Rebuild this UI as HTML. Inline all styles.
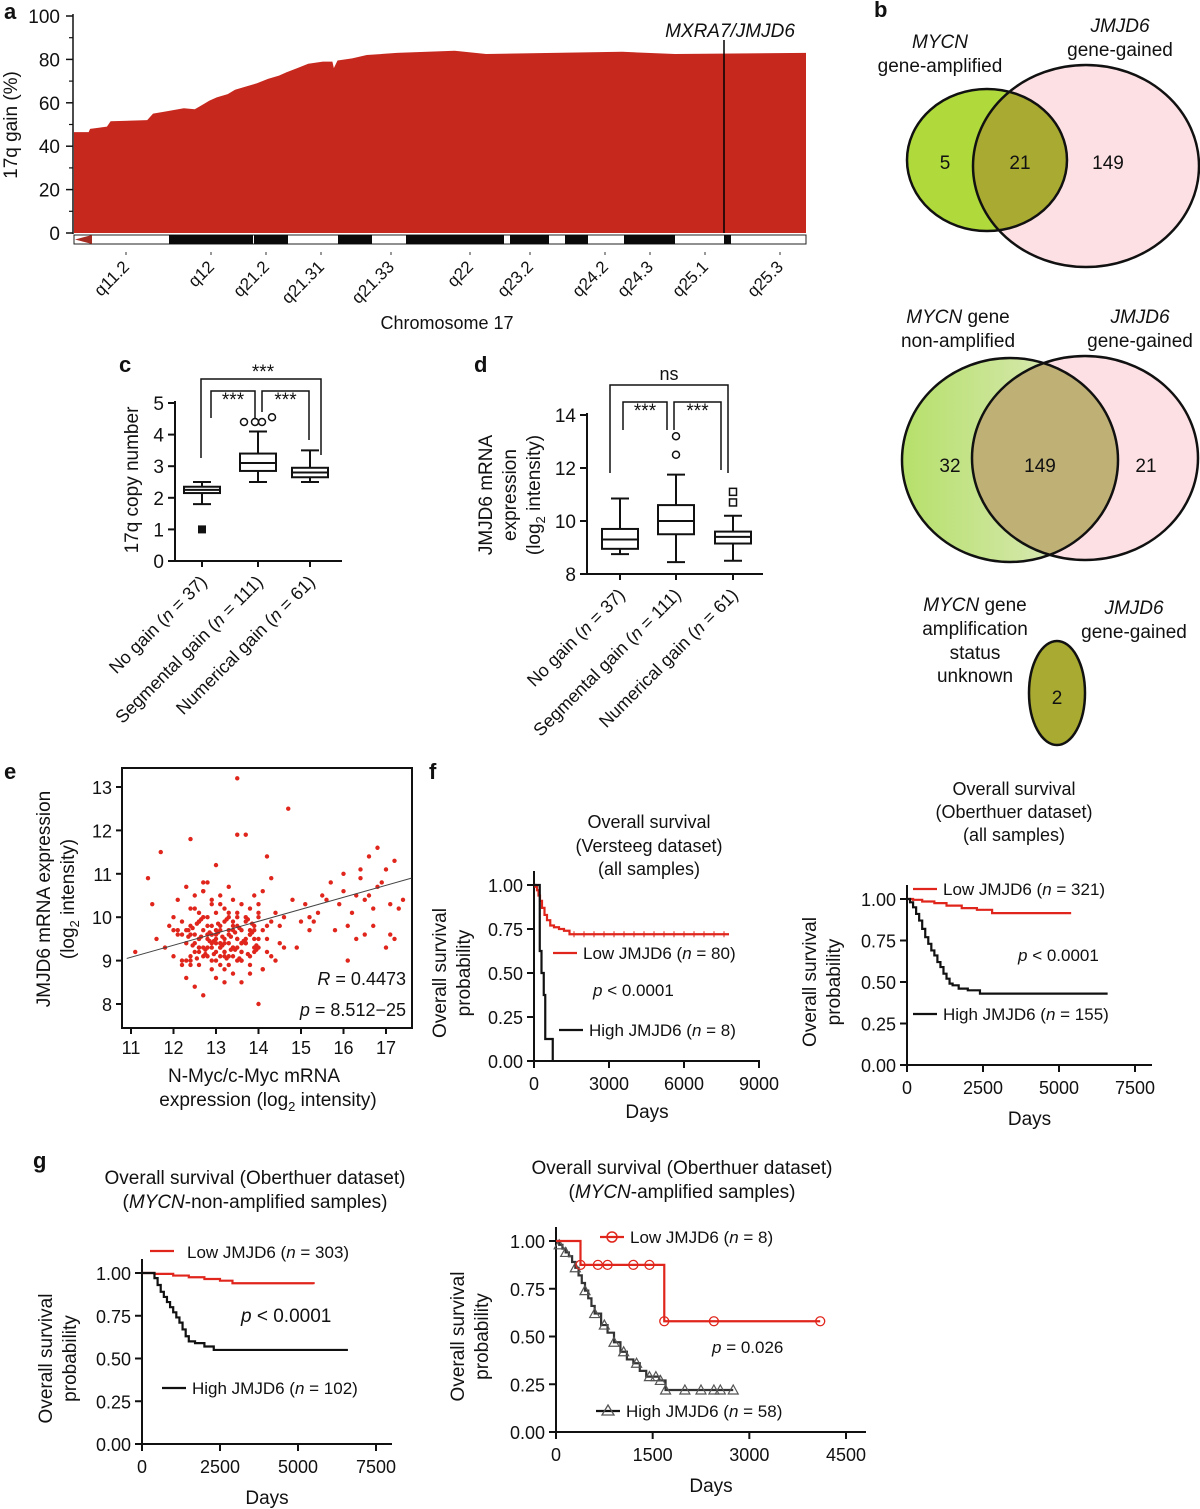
<!DOCTYPE html>
<html><head><meta charset="utf-8">
<style>
html,body{margin:0;padding:0;background:#fff;}
svg{display:block;font-family:"Liberation Sans",Arial,sans-serif;}
text{fill:#111;}
</style></head>
<body>
<svg id="fig" width="1200" height="1509" viewBox="0 0 1200 1509" xmlns="http://www.w3.org/2000/svg">
<g id="pa"></g>
<g id="pb"></g>
<g id="pc"></g>
<g id="pd"></g>
<g id="pe"></g>
<g id="pf"></g>
<g id="pg"></g>
</svg>
<script>
// ---------- DATA ----------
const gainPos = [0,2.0,2.2,4.5,5.0,10.0,10.8,12.5,15.0,16.5,17.5,18.5,19.5,21.0,22.0,23.5,25.0,26.5,28.0,29.0,30.5,32.0,34.0,35.3,35.5,36.0,38.0,40.0,44.1,52.0,56.3,74.9,82.1,100];
const gainVal = [46.5,46.5,48,49,51.5,52,55,56,57.5,57,59,61,62.5,64,66,67.5,69,71,72.5,74,76,78,79,79,76,79.5,80.5,82,83,84,82.5,83.5,82.5,83];
const gainTicks = [0,20,40,60,80,100];
const bandStart = [169,254,338,406,510,565,624,724];
const bandEnd   = [253,288,372,504,549,588,675,731];
const bandLabels = ["q11.2","q12","q21.2","q21.31","q21.33","q22","q23.2","q24.2","q24.3","q25.1","q25.3"];
const bandLabelPos = [118,203,258,313,383,462,522,597,642,697,772];

const cGroups = ["No gain (n = 37)","Segmental gain (n = 111)","Numerical gain (n = 61)"];
const cWlo = [1.8,2.5,2.5], cQ1=[2.15,2.85,2.65], cMed=[2.25,3.1,2.8], cQ3=[2.35,3.4,2.95], cWhi=[2.5,4.1,3.5];
const cOutY = [1.0,4.4,4.4,4.4,4.55], cOutG=[0,1,1,1,1], cOutDx=[0,-14,-3,4,14];
const cTicks=[0,1,2,3,4,5];
const dWlo=[8.75,8.45,8.5], dQ1=[8.95,9.5,9.15], dMed=[9.3,10.0,9.4], dQ3=[9.7,10.6,9.6], dWhi=[10.85,11.75,10.2];
const dOutY=[12.5,13.2,10.7,11.1], dOutG=[1,1,2,2];
const dTicks=[8,10,12,14];

const scatX=[11.1,11.4,11.6,11.7,11.8,11.5,11.9,12.0,12.0,12.1,12.1,12.2,12.2,12.3,12.3,12.3,12.4,12.4,12.4,12.5,12.5,12.5,12.5,12.6,12.6,12.6,12.6,12.7,12.7,12.7,12.7,12.8,12.8,12.8,12.8,12.9,12.9,12.9,12.9,13.0,13.0,13.0,13.0,13.0,13.1,13.1,13.1,13.1,13.2,13.2,13.2,13.2,13.3,13.3,13.3,13.3,13.4,13.4,13.4,13.4,13.5,13.5,13.5,13.5,13.6,13.6,13.6,13.6,13.7,13.7,13.7,13.8,13.8,13.8,13.9,13.9,13.9,14.0,14.0,14.0,14.1,14.1,14.2,14.2,14.3,14.3,14.4,14.5,14.6,14.7,14.8,15.0,15.1,15.3,15.5,15.6,15.8,15.9,16.0,16.1,16.2,16.3,16.3,16.4,16.5,16.5,16.6,16.7,16.7,16.8,16.9,17.0,17.0,17.1,17.2,17.3,17.4,13.5,14.5,13.1,12.2,14.9,12.6,12.9,13.2,13.4,13.7,12.4,12.8,13.0,13.3,13.6,13.9,12.5,12.7,13.1,13.5,13.8,14.1,12.3,13.2,13.6,12.9,13.4,13.0,12.6,13.8,14.2,12.1,13.3,13.7,12.8,13.1,13.5,14.0,12.4,12.7,13.9,16.1,15.7,16.6,17.2,15.2,
12.35,12.45,12.55,12.65,12.75,12.85,12.95,13.05,13.15,13.25,13.35,13.45,13.55,13.65,13.75,13.85,13.95,12.35,12.45,12.55,12.65,12.75,12.85,12.95,13.05,13.15,13.25,13.35,13.45,13.55,13.65,13.75,13.85,13.95,12.4,12.6,12.8,13.0,13.2,13.4,13.6,13.8,14.0,12.5,12.7,12.9,13.1,13.3,13.5,13.7,13.9,12.2,12.3,12.6,12.9,13.2,13.5,13.8,14.1,14.3,12.0,12.4,12.8,13.2,13.6,14.0,14.4,12.6,13.0,13.4,13.8,13.3,12.9,13.1,13.6,12.7,14.2,14.6,15.2,15.4,16.0,16.4,16.8,17.1];
const scatY=[9.2,10.9,9.5,11.5,9.3,10.3,9.8,9.1,10.0,9.6,10.4,9.0,9.9,10.7,9.4,8.6,9.8,10.2,9.0,9.6,10.5,9.2,8.4,9.9,10.1,9.5,8.9,10.6,9.3,9.7,8.2,10.0,9.1,9.5,10.8,9.8,9.3,8.8,10.3,9.6,10.1,9.0,11.2,8.6,9.4,10.5,9.7,8.9,9.9,10.2,9.2,8.5,9.6,10.0,9.4,10.7,9.1,9.8,10.4,8.7,9.5,10.1,9.3,11.9,9.7,10.3,9.0,8.5,10.0,9.4,11.9,9.6,10.2,8.9,9.8,10.5,9.3,10.1,9.5,8.0,10.6,9.7,11.4,9.2,10.9,9.9,10.1,9.8,10.0,12.5,10.4,9.9,10.3,9.9,10.5,10.4,9.7,10.3,10.6,9.8,10.1,10.5,9.5,11.1,10.4,9.6,11.4,10.2,9.8,11.6,10.8,9.3,11.1,10.3,9.5,10.2,10.4,13.2,9.4,9.1,9.6,9.3,9.2,9.4,9.1,9.3,9.5,9.6,9.8,9.5,9.7,9.0,9.2,9.4,9.1,9.3,9.5,9.7,8.8,9.0,9.2,9.4,9.6,9.9,9.4,9.3,9.1,9.5,9.7,8.9,9.4,9.6,9.8,10.0,10.3,11.8,10.8,9.7,9.0,10.8,10.5,11.3,10.0,9.7,
9.35,9.05,9.55,9.25,9.45,9.15,9.65,9.35,9.05,9.55,9.25,9.75,9.45,9.15,9.85,9.35,9.55,9.75,9.85,9.95,9.15,9.65,9.45,9.85,9.55,9.95,9.25,9.65,9.05,9.45,9.95,9.65,9.25,9.1,9.3,9.6,9.2,9.5,9.7,9.4,9.6,9.3,10.2,10.0,9.6,9.3,9.1,9.8,9.9,9.5,8.9,9.7,9.9,9.0,8.8,9.0,8.7,8.8,9.1,9.7,8.9,9.3,9.4,9.2,10.0,9.0,9.5,9.7,9.3,9.6,10.1,10.4,10.3,9.2,10.6,9.8,9.3,9.7,10.1,11.0,10.9,10.7,9.6];
const regX=[10.9,17.6], regY=[9.05,10.9];
const eXTicks=[11,12,13,14,15,16,17], eYTicks=[8,9,10,11,12,13];

const f1LowT=[0,60,120,180,240,320,420,520,650,800,1000,1200,1420,7800];
const f1LowS=[1,0.99,0.97,0.94,0.91,0.87,0.83,0.80,0.77,0.76,0.75,0.74,0.72,0.72];
const f1LowCens=[1600,2000,2400,2800,3200,3600,4000,4400,4800,5200,5600,6000,6400,6800,7200,7600];
const f1HighT=[0,200,230,300,390,450,750];
const f1HighS=[1,1,0.625,0.5,0.375,0.125,0];
const f1XTicks=[0,3000,6000,9000], survTicks=[0,0.25,0.5,0.75,1];

const f2LowT=[0,200,500,900,1300,1800,2300,2800,5400];
const f2LowS=[1,0.995,0.985,0.975,0.96,0.945,0.935,0.915,0.915];
const f2HighT=[0,100,200,300,400,500,600,700,800,900,1000,1100,1200,1300,1400,1500,1700,2000,2400,6600];
const f2HighS=[1,0.98,0.95,0.91,0.87,0.82,0.77,0.73,0.69,0.66,0.62,0.59,0.55,0.52,0.49,0.48,0.46,0.45,0.43,0.43];
const f2XTicks=[0,2500,5000,7500];

const g1LowT=[0,400,1000,1500,2000,2500,2900,5500];
const g1LowS=[1,0.995,0.985,0.975,0.965,0.955,0.94,0.935];
const g1HighT=[0,300,400,500,600,700,800,900,1000,1100,1200,1300,1400,1500,1700,2000,2300,6600];
const g1HighS=[1,1,0.97,0.93,0.89,0.86,0.83,0.8,0.77,0.74,0.71,0.67,0.63,0.6,0.59,0.57,0.55,0.55];

const g2LowT=[0,380,1680,4100];
const g2LowS=[1,0.875,0.58,0.58];
const g2LowCens=[380,650,800,1200,1450,1680,2450,4100];
const g2HighT=[0,50,100,150,200,250,300,350,400,450,500,550,600,700,800,900,1000,1100,1200,1300,1400,1600,1700,2750];
const g2HighS=[1,0.98,0.96,0.94,0.92,0.89,0.86,0.82,0.78,0.74,0.70,0.66,0.62,0.56,0.52,0.47,0.42,0.38,0.36,0.32,0.29,0.27,0.22,0.22];
const g2HighCens=[50,150,300,450,600,750,900,1050,1250,1450,1550,1620,1700,2000,2250,2450,2550,2750];
const g2XTicks=[0,1500,3000,4500];

// ---------- HELPERS ----------
const NS="http://www.w3.org/2000/svg";
function mk(parent,tag,attrs,txt){const e=document.createElementNS(NS,tag);for(const k in attrs)e.setAttribute(k,attrs[k]);if(txt!==undefined)e.innerHTML=txt;parent.appendChild(e);return e;}
function lin(d0,d1,r0,r1){return v=>r0+(v-d0)*(r1-r0)/(d1-d0);}
function T(parent,x,y,s,size,anchor,extra){const e=mk(parent,'text',Object.assign({x:x,y:y,'font-size':size||18,'text-anchor':anchor||'middle'},extra||{}),s);return e;}
function line(p,x1,y1,x2,y2,w,c){return mk(p,'line',{x1:x1,y1:y1,x2:x2,y2:y2,stroke:c||'#111','stroke-width':w||2});}
function fmt2(v){return v.toFixed(2);}

// ---------- PANEL A ----------
(function(){
const g=document.getElementById('pa');
const X=lin(0,100,74,806), Y=lin(0,100,233,16);
let d='M'+X(0)+' '+Y(0);
gainPos.forEach((p,i)=>{d+=' L'+X(p)+' '+Y(gainVal[i]);});
d+=' L'+X(100)+' '+Y(0)+' Z';
const area=mk(g,'path',{d:d,fill:'#c6281e'});


line(g,724,40,724,233,1.5,'#000');
const gl=T(g,730,37,'MXRA7/JMJD6',19,'middle',{'font-style':'italic'});


line(g,73,14,73,234,1.5);
gainTicks.forEach(v=>{line(g,66,Y(v),73,Y(v),1.5);T(g,60,Y(v)+7,v,19,'end');});
[10,30,50,70,90].forEach(v=>line(g,69,Y(v),73,Y(v),1.2));
const yt=T(g,17,125,'17q gain (%)',19,'middle',{transform:'rotate(-90 17 125)'});


T(g,4,19,'a',22,'start',{'font-weight':'bold'});
mk(g,'rect',{x:74,y:235,width:732,height:9,fill:'#fff',stroke:'#222','stroke-width':1});
mk(g,'path',{d:'M75 239.5 L92 235 L92 244 Z',fill:'#a52a20'});
bandStart.forEach((s,i)=>{const r=mk(g,'rect',{x:s,y:235,width:bandEnd[i]-s,height:9,fill:'#0a0a0a'});

});
bandLabels.forEach((l,i)=>{const x=bandLabelPos[i];line(g,x+8,252,x+8,255,1,'#333');
T(g,x+4,268,l,17,'end',{transform:'rotate(-45 '+(x+8)+' 258)'});});
const xt=T(g,447,329,'Chromosome 17',18);


})();

// ---------- PANEL B ----------
(function(){
const g=document.getElementById('pb');
const defs=mk(g,'defs',{});
const cp1c=mk(defs,'clipPath',{id:'cp1'});mk(cp1c,'ellipse',{cx:987,cy:160,rx:80,ry:71});
const lg=mk(defs,'linearGradient',{id:'gg',x1:'0',x2:'1',y1:'0',y2:'0'});
mk(lg,'stop',{offset:'0','stop-color':'#b6e06a'});mk(lg,'stop',{offset:'0.55','stop-color':'#cfe6a0'});mk(lg,'stop',{offset:'1','stop-color':'#f0f0e4'});
const cp2=mk(defs,'clipPath',{id:'cp2'});mk(cp2,'ellipse',{cx:1010,cy:460,rx:108,ry:102});
T(g,874,17,'b',22,'start',{'font-weight':'bold'});
mk(g,'ellipse',{cx:1086,cy:166,rx:113,ry:101,fill:'#fde0e4'});
mk(g,'ellipse',{cx:987,cy:160,rx:80,ry:71,fill:'#b0da3c'});
mk(g,'ellipse',{cx:1086,cy:166,rx:113,ry:101,fill:'#a9aa32','clip-path':'url(#cp1)'});
mk(g,'ellipse',{cx:987,cy:160,rx:80,ry:71,fill:'none',stroke:'#111','stroke-width':2.5});
mk(g,'ellipse',{cx:1086,cy:166,rx:113,ry:101,fill:'none',stroke:'#111','stroke-width':2.5});
T(g,945,169,'5',19);T(g,1020,169,'21',19);T(g,1108,169,'149',19);
T(g,940,48,'MYCN',19,'middle',{'font-style':'italic'});T(g,940,72,'gene-amplified',19);
T(g,1120,32,'JMJD6',19,'middle',{'font-style':'italic'});T(g,1120,56,'gene-gained',19);
mk(g,'ellipse',{cx:1085,cy:458,rx:113,ry:102,fill:'#fde0e4'});
mk(g,'ellipse',{cx:1010,cy:460,rx:108,ry:102,fill:'url(#gg)'});
mk(g,'ellipse',{cx:1085,cy:458,rx:113,ry:102,fill:'#bfb076','clip-path':'url(#cp2)'});
mk(g,'ellipse',{cx:1010,cy:460,rx:108,ry:102,fill:'none',stroke:'#111','stroke-width':2.5});
mk(g,'ellipse',{cx:1085,cy:458,rx:113,ry:102,fill:'none',stroke:'#111','stroke-width':2.5});
T(g,950,472,'32',19);T(g,1040,472,'149',19);T(g,1146,472,'21',19);
T(g,958,323,'<tspan font-style="italic">MYCN</tspan> gene',19);T(g,958,347,'non-amplified',19);
T(g,1140,323,'JMJD6',19,'middle',{'font-style':'italic'});T(g,1140,347,'gene-gained',19);
mk(g,'ellipse',{cx:1057,cy:693,rx:28,ry:52,fill:'#a9aa32',stroke:'#111','stroke-width':2.5});
T(g,1057,704,'2',19);
T(g,975,611,'<tspan font-style="italic">MYCN</tspan> gene',19);T(g,975,635,'amplification',19);T(g,975,659,'status',19);T(g,975,682,'unknown',19);
T(g,1134,614,'JMJD6',19,'middle',{'font-style':'italic'});T(g,1134,638,'gene-gained',19);
})();

// ---------- BOX PANELS ----------
function boxPanel(g,opts){
const Y=lin(opts.d0,opts.d1,opts.y0,opts.y1);
line(g,opts.ax,opts.y1-2,opts.ax,opts.y0+1,2);
line(g,opts.ax,opts.y0,opts.ax2,opts.y0,2);
opts.ticks.forEach(v=>{line(g,opts.ax-7,Y(v),opts.ax,Y(v),2);T(g,opts.ax-11,Y(v)+7,v,19,'end');});
opts.xs.forEach((cx,i)=>{
 line(g,cx,opts.y0,cx,opts.y0+6,2);
 const hw=opts.hw;
 line(g,cx,Y(opts.wlo[i]),cx,Y(opts.q1[i]),2);line(g,cx,Y(opts.whi[i]),cx,Y(opts.q3[i]),2);
 line(g,cx-hw/2,Y(opts.wlo[i]),cx+hw/2,Y(opts.wlo[i]),2);line(g,cx-hw/2,Y(opts.whi[i]),cx+hw/2,Y(opts.whi[i]),2);
 const b=mk(g,'rect',{x:cx-hw,y:Y(opts.q3[i]),width:2*hw,height:Y(opts.q1[i])-Y(opts.q3[i]),fill:'#fff',stroke:'#111','stroke-width':2});
 
 
 line(g,cx-hw,Y(opts.med[i]),cx+hw,Y(opts.med[i]),2);
 const lx=cx+6, ly=opts.y0+22;
 T(g,lx,ly,opts.labels[i],18,'end',{transform:'rotate(-45 '+lx+' '+ly+')'});
});
}
function groupLabel(s){return s.replace(/n = (\d+)/,'<tspan font-style="italic">n</tspan> = $1');}
function bracket(g,x1,x2,y,yl1,yl2,lab){mk(g,'path',{d:`M${x1} ${yl1} V${y} H${x2} V${yl2}`,fill:'none',stroke:'#111','stroke-width':1.5});T(g,(x1+x2)/2,lab==='ns'?y-5:y+15,lab,lab==='ns'?18:19);}
(function(){
const g=document.getElementById('pc');
T(g,119,372,'c',22,'start',{'font-weight':'bold'});
const xs=[202,258,310];
boxPanel(g,{d0:0,d1:5,y0:561,y1:403,ax:175,ax2:342,ticks:cTicks,xs:xs,hw:18,wlo:cWlo,q1:cQ1,med:cMed,q3:cQ3,whi:cWhi,labels:cGroups.map(groupLabel)});
const Y=lin(0,5,561,403);
cOutY.forEach((v,i)=>{const x=xs[cOutG[i]]+cOutDx[i];
 if(cOutG[i]===0) mk(g,'rect',{x:x-4,y:Y(v)-4,width:8,height:8,fill:'#111'});
 else mk(g,'circle',{cx:x,cy:Y(v),r:3.5,fill:'none',stroke:'#111','stroke-width':1.5});});
mk(g,'path',{d:'M201 458 V379 H321 V455',fill:'none',stroke:'#111','stroke-width':1.5});T(g,263,378,'***',19);
bracket(g,211,255,391,418,418,'***');
bracket(g,262,309,391,412,440,'***');
T(g,138,480,'17q copy number',19,'middle',{transform:'rotate(-90 138 480)'});
})();
(function(){
const g=document.getElementById('pd');
T(g,474,372,'d',22,'start',{'font-weight':'bold'});
const xs=[620,676,733];
boxPanel(g,{d0:8,d1:14,y0:574,y1:415,ax:587,ax2:763,ticks:dTicks,xs:xs,hw:18,wlo:dWlo,q1:dQ1,med:dMed,q3:dQ3,whi:dWhi,labels:cGroups.map(groupLabel)});
const Y=lin(8,14,574,415);
dOutY.forEach((v,i)=>{const x=xs[dOutG[i]];
 if(dOutG[i]===2) mk(g,'rect',{x:x-3.5,y:Y(v)-3.5,width:7,height:7,fill:'none',stroke:'#111','stroke-width':1.5});
 else mk(g,'circle',{cx:x,cy:Y(v),r:3.5,fill:'none',stroke:'#111','stroke-width':1.5});});
bracket(g,610,728,385,473,473,'ns');
bracket(g,623,667,402,430,430,'***');
bracket(g,674,721,402,430,470,'***');
T(g,492,495,'JMJD6 mRNA',19,'middle',{transform:'rotate(-90 492 495)'});
T(g,516,495,'expression',19,'middle',{transform:'rotate(-90 516 495)'});
T(g,540,495,'(log<tspan font-size="13" dy="5">2</tspan><tspan dy="-5"> intensity)</tspan>',19,'middle',{transform:'rotate(-90 540 495)'});
})();

// ---------- PANEL E ----------
(function(){
const g=document.getElementById('pe');
const X=lin(11,17,131,386), Y=lin(8,13,1004,787);
T(g,4,779,'e',22,'start',{'font-weight':'bold'});
mk(g,'rect',{x:122,y:768,width:290,height:260,fill:'none',stroke:'#111','stroke-width':2});
const n=Math.min(scatX.length,scatY.length);
for(let i=0;i<n;i++){const c=mk(g,'circle',{cx:X(scatX[i]),cy:Y(scatY[i]),r:2.2,fill:'#e0261c'});

}
const cl=document.createElementNS(NS,'clipPath');cl.id='ecl';g.appendChild(cl);mk(cl,'rect',{x:122,y:768,width:290,height:260});
const rl=mk(g,'line',{x1:X(regX[0]),y1:Y(regY[0]),x2:X(regX[1]),y2:Y(regY[1]),stroke:'#444','stroke-width':1,'clip-path':'url(#ecl)'});


eXTicks.forEach(v=>{line(g,X(v),1028,X(v),1034,2);T(g,X(v),1054,v,18);});
eYTicks.forEach(v=>{line(g,116,Y(v),122,Y(v),2);T(g,112,Y(v)+7,v,18,'end');});
T(g,406,985,'<tspan font-style="italic">R</tspan> = 0.4473',18,'end');
T(g,406,1016,'<tspan font-style="italic">p</tspan> = 8.512−25',18,'end');
T(g,254,1082,'N-Myc/c-Myc mRNA',19);
T(g,268,1106,'expression (log<tspan font-size="13" dy="5">2</tspan><tspan dy="-5"> intensity)</tspan>',19);
T(g,50,899,'JMJD6 mRNA expression',19,'middle',{transform:'rotate(-90 50 899)'});
T(g,74,899,'(log<tspan font-size="13" dy="5">2</tspan><tspan dy="-5"> intensity)</tspan>',19,'middle',{transform:'rotate(-90 74 899)'});
})();

// ---------- KM ----------
function km(g,X,Y,t,s,color,name){
let d='M'+X(t[0])+' '+Y(s[0]);
for(let i=1;i<t.length;i++){d+=' H'+X(t[i])+' V'+Y(s[i]);}
const p=mk(g,'path',{d:d,fill:'none',stroke:color,'stroke-width':2.2});


}
function survAt(t,s,x){let v=s[0];for(let i=0;i<t.length;i++){if(t[i]<=x)v=s[i];}return v;}
function kmAxes(g,ax,ay0,ay1,ax2,xticks,xMax,X,Y,ylabX,daysY){
line(g,ax,ay1-14,ax,ay0+1,2);line(g,ax,ay0,ax2,ay0,2);
survTicks.forEach(v=>{line(g,ax-7,Y(v),ax,Y(v),2);T(g,ax-11,Y(v)+7,fmt2(v),18,'end');});
xticks.forEach(v=>{line(g,X(v),ay0,X(v),ay0+7,2);T(g,X(v),ay0+29,v,18);});
T(g,(ax+ax2)/2,daysY,'Days',19);
const mid=(ay0+ay1)/2;
T(g,ylabX,mid,'Overall survival',19,'middle',{transform:`rotate(-90 ${ylabX} ${mid})`});
T(g,ylabX+24,mid,'probability',19,'middle',{transform:`rotate(-90 ${ylabX+24} ${mid})`});
}
function legendEntry(g,x,y,color,label,marker){line(g,x,y,x+24,y,2.2,color);
 if(marker==='o')mk(g,'circle',{cx:x+12,cy:y,r:5,fill:'none',stroke:color,'stroke-width':1.5});
 if(marker==='t')mk(g,'path',{d:`M${x+12} ${y-6} L${x+18} ${y+4} L${x+6} ${y+4} Z`,fill:'none',stroke:'#555','stroke-width':1.3});
 const e=T(g,x+30,y+6,label,17,'start');}
const RED='#e0261c';
(function(){
const g=document.getElementById('pf');
T(g,429,779,'f',22,'start',{'font-weight':'bold'});
let X=lin(0,9000,534,759), Y=lin(0,1,1061,885);
kmAxes(g,534,1061,885,760,f1XTicks,9000,X,Y,446,1118);
km(g,X,Y,f1LowT,f1LowS,RED,'km-low-versteeg');
f1LowCens.forEach(c=>line(g,X(c),Y(survAt(f1LowT,f1LowS,c))-3,X(c),Y(survAt(f1LowT,f1LowS,c))+3,1,RED));
km(g,X,Y,f1HighT,f1HighS,'#111','km-high-versteeg');
T(g,649,828,'Overall survival',18);T(g,649,852,'(Versteeg dataset)',18);T(g,649,875,'(all samples)',18);
legendEntry(g,553,953,RED,'Low JMJD6 (<tspan font-style="italic">n</tspan> = 80)');
T(g,593,996,'<tspan font-style="italic">p</tspan> &lt; 0.0001',17,'start');
legendEntry(g,559,1030,'#111','High JMJD6 (<tspan font-style="italic">n</tspan> = 8)');
X=lin(0,7500,907,1135); Y=lin(0,1,1065,899);
kmAxes(g,907,1065,899,1152,f2XTicks,7500,X,Y,816,1125);
km(g,X,Y,f2LowT,f2LowS,RED,'km-low-oberthuer');
km(g,X,Y,f2HighT,f2HighS,'#111','km-high-oberthuer');
T(g,1014,795,'Overall survival',18);T(g,1014,818,'(Oberthuer dataset)',18);T(g,1014,841,'(all samples)',18);
legendEntry(g,913,889,RED,'Low JMJD6 (<tspan font-style="italic">n</tspan> = 321)');
T(g,1018,961,'<tspan font-style="italic">p</tspan> &lt; 0.0001',17,'start');
legendEntry(g,913,1014,'#111','High JMJD6 (<tspan font-style="italic">n</tspan> = 155)');
})();
(function(){
const g=document.getElementById('pg');
T(g,33,1168,'g',22,'start',{'font-weight':'bold'});
let X=lin(0,7500,142,376), Y=lin(0,1,1444,1273);
kmAxes(g,142,1444,1273,392,[0,2500,5000,7500],7500,X,Y,52,1504);
km(g,X,Y,g1LowT,g1LowS,RED,'km-low-nonamp');
km(g,X,Y,g1HighT,g1HighS,'#111','km-high-nonamp');
T(g,255,1184,'Overall survival (Oberthuer dataset)',19);
T(g,255,1208,'(<tspan font-style="italic">MYCN</tspan>-non-amplified samples)',19);
legendEntry(g,150,1251,RED,'');T(g,187,1258,'Low JMJD6 (<tspan font-style="italic">n</tspan> = 303)',17,'start');
T(g,241,1322,'<tspan font-style="italic">p</tspan> &lt; 0.0001',19,'start');
legendEntry(g,162,1388,'#111','High JMJD6 (<tspan font-style="italic">n</tspan> = 102)');
X=lin(0,4500,556,846); Y=lin(0,1,1432,1241);
kmAxes(g,556,1432,1241,866,g2XTicks,4500,X,Y,464,1492);
km(g,X,Y,g2HighT,g2HighS,'#333','km-high-amp');
g2HighCens.forEach(c=>{const x=X(c),y=Y(survAt(g2HighT,g2HighS,c));
 mk(g,'path',{d:`M${x} ${y-5} L${x+5} ${y+4} L${x-5} ${y+4} Z`,fill:'none',stroke:'#555','stroke-width':1.2});});
km(g,X,Y,g2LowT,g2LowS,RED,'km-low-amp');
g2LowCens.forEach(c=>mk(g,'circle',{cx:X(c),cy:Y(survAt(g2LowT,g2LowS,c)),r:4.5,fill:'none',stroke:RED,'stroke-width':1.3}));
T(g,682,1174,'Overall survival (Oberthuer dataset)',19);
T(g,682,1198,'(<tspan font-style="italic">MYCN</tspan>-amplified samples)',19);
legendEntry(g,600,1237,RED,'Low JMJD6 (<tspan font-style="italic">n</tspan> = 8)','o');
T(g,712,1353,'<tspan font-style="italic">p</tspan> = 0.026',17,'start');
legendEntry(g,596,1411,'#111','High JMJD6 (<tspan font-style="italic">n</tspan> = 58)','t');
})();
</script>
</body></html>
